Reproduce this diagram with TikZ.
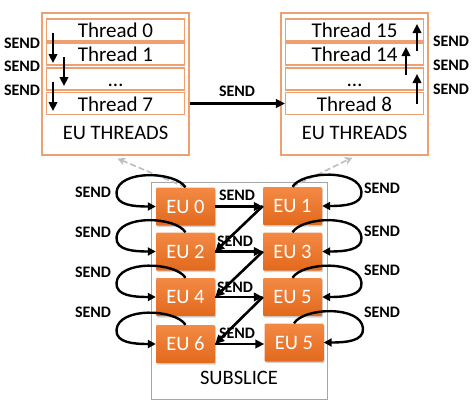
\documentclass[tikz,border=0pt]{standalone}
\usepackage{fontspec}
\setmainfont{Carlito}
\usetikzlibrary{arrows.meta,calc,shadows}
\definecolor{euorange}{HTML}{ED7D31}
\definecolor{euorangetop}{HTML}{F38A45}
\definecolor{euorangebot}{HTML}{E2691C}
\definecolor{boxorange}{HTML}{F0A070}
\definecolor{subgray}{HTML}{A6A6A6}
\definecolor{dashgray}{HTML}{BDBDBD}
\begin{document}
\begin{tikzpicture}[x=1pt,y=-1pt,
  outerbox/.style={draw=boxorange,line width=1.1pt,minimum width=147pt,minimum height=142pt,inner sep=0pt},
  rowbox/.style={draw=boxorange,line width=1.1pt,minimum width=138pt,minimum height=22pt,inner sep=0pt,text height=15pt,text depth=0pt,font=\fontsize{21}{22}\selectfont},
  title/.style={font=\fontsize{20.5}{22}\selectfont,inner sep=0pt},
  sendlbl/.style={font=\bfseries\fontsize{16}{17}\selectfont,inner sep=0pt},
  eubox/.style={top color=euorangetop,bottom color=euorangebot,draw=none,rounded corners=1pt,minimum width=59pt,minimum height=38pt,inner sep=0pt,text=white,font=\fontsize{20.5}{24}\selectfont,drop shadow={opacity=0.35,shadow xshift=1.2pt,shadow yshift=-1.5pt}},
  arr/.style={draw=black,line width=2.6pt,-{Triangle[length=9pt,width=8.5pt]}},
  looparr/.style={draw=black,line width=2.4pt,-{Triangle[length=8pt,width=8pt]}},
  dasharr/.style={draw=dashgray,line width=1.6pt,dashed,dash pattern=on 6pt off 3pt,-{Stealth[length=8pt,width=8pt]}}
]
\useasboundingbox (0,0) rectangle (474,408);

% ---------- left EU threads ----------
\node[outerbox] (lbox) at (115.5,84) {};
\node[rowbox] (l0) at (115.5,30) {Thread 0};
\node[rowbox] (l1) at (115.5,54) {Thread 1};
\node[rowbox] (l2) at (115.5,79) {\ldots};
\node[rowbox] (l7) at (115.5,103.5) {Thread 7};
\node[title] (ltitle) at (115.5,133) {EU THREADS};

% ---------- right EU threads ----------
\node[outerbox] (rbox) at (354.5,84) {};
\node[rowbox] (r15) at (354.5,30) {Thread 15};
\node[rowbox] (r14) at (354.5,54) {Thread 14};
\node[rowbox] (r2) at (354.5,79) {\ldots};
\node[rowbox] (r8) at (354.5,103.5) {Thread 8};
\node[title] (rtitle) at (354.5,133) {EU THREADS};

% vertical arrows left
\coordinate (la1s) at (53,33);  \coordinate (la1e) at (53,63);
\coordinate (la2s) at (64,57);  \coordinate (la2e) at (64,86);
\coordinate (la3s) at (53,82);  \coordinate (la3e) at (53,111);
\draw[arr] (la1s) -- (la1e);
\draw[arr] (la2s) -- (la2e);
\draw[arr] (la3s) -- (la3e);
\node[sendlbl] (ls1) at (22,43) {SEND};
\node[sendlbl] (ls2) at (22,66) {SEND};
\node[sendlbl] (ls3) at (22,90) {SEND};

% vertical arrows right
\coordinate (ra1s) at (417,51);  \coordinate (ra1e) at (417,24);
\coordinate (ra2s) at (406,75);  \coordinate (ra2e) at (406,47);
\coordinate (ra3s) at (417,104); \coordinate (ra3e) at (417,74);
\draw[arr] (ra1s) -- (ra1e);
\draw[arr] (ra2s) -- (ra2e);
\draw[arr] (ra3s) -- (ra3e);
\node[sendlbl] (rs1) at (451,41) {SEND};
\node[sendlbl] (rs2) at (451,65) {SEND};
\node[sendlbl] (rs3) at (451,89) {SEND};

% horizontal send
\draw[arr] (lbox.east |- l7.east) -- (r8.west);
\node[sendlbl] (hs) at (237,91) {SEND};

% ---------- subslice ----------
\node[draw=subgray,line width=0.9pt,minimum width=176pt,minimum height=217pt,inner sep=0pt] (sub) at (239,290.5) {};
\node[title] (subt) at (239,378) {SUBSLICE};

% EU boxes
\node[eubox] (eu0) at (185.5,206.5) {EU 0};
\node[eubox] (eu2) at (185.5,251.5) {EU 2};
\node[eubox] (eu4) at (185.5,297) {EU 4};
\node[eubox] (eu6) at (185.5,344) {EU 6};
\node[eubox] (eu1) at (292.5,206) {EU 1};
\node[eubox] (eu3) at (292.5,251.5) {EU 3};
\node[eubox] (eu5a) at (292.5,297) {EU 5};
\node[eubox] (eu5b) at (294,342.5) {EU 5};

% dashed arrows to thread boxes
\draw[dasharr] (eu0.north) -- ($(lbox.south)+(2,3)$);
\draw[dasharr] (eu1.north) -- ($(rbox.south)+(-2,2)$);

% zigzag
\draw[arr] (eu0.east) -- (eu0.east -| eu1.west);
\draw[arr] (eu1.west) -- (eu2.east);
\draw[arr] (eu2.east) -- (eu2.east -| eu3.west);
\draw[arr] (eu3.west) -- (eu4.east);
\draw[arr] (eu4.east) -- (eu4.east -| eu5a.west);
\draw[arr] (eu5a.west) -- (eu6.east);
\draw[arr] (eu6.east) -- (eu6.east -| eu5b.west);
\node[sendlbl] (z1) at (237,195) {SEND};
\node[sendlbl] (z2) at (235,241) {SEND};
\node[sendlbl] (z3) at (235,287) {SEND};
\node[sendlbl] (z4) at (237,333) {SEND};

% loops left
\foreach \n in {eu0,eu2,eu4,eu6}{
  \draw[looparr] (\n.north) .. controls ($(\n.north)+(-10,-16)$) and ($(\n.north)+(-67,-18)$) .. ($(\n.north)+(-69,5)$)
     .. controls ($(\n.north)+(-70,18)$) and ($(\n.west)+(-22,0)$) .. (\n.west);
}
% loops right
\foreach \n in {eu1,eu3,eu5a,eu5b}{
  \draw[looparr] (\n.north) .. controls ($(\n.north)+(10,-16)$) and ($(\n.north)+(67,-18)$) .. ($(\n.north)+(69,5)$)
     .. controls ($(\n.north)+(70,18)$) and ($(\n.east)+(22,0)$) .. (\n.east);
}
\node[sendlbl] (ll0) at (93,192) {SEND};
\node[sendlbl] (ll2) at (93,232) {SEND};
\node[sendlbl] (ll4) at (93,272) {SEND};
\node[sendlbl] (ll6) at (93,312) {SEND};
\node[sendlbl] (rl1) at (382,188) {SEND};
\node[sendlbl] (rl3) at (382,231) {SEND};
\node[sendlbl] (rl5) at (382,270) {SEND};
\node[sendlbl] (rl7) at (382,312) {SEND};
\end{tikzpicture}
\end{document}
